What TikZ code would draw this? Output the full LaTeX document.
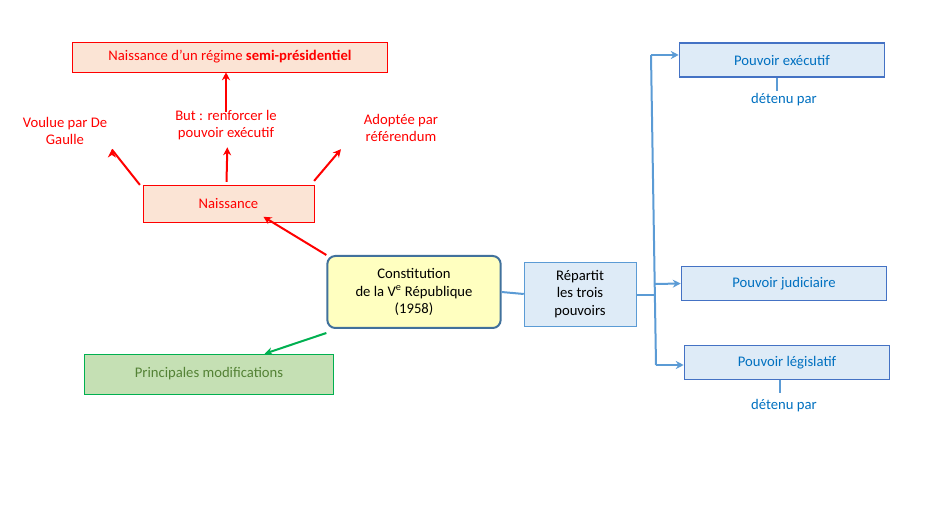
\documentclass[tikz,border=0pt]{standalone}
\usepackage{fontspec}
\setmainfont{Carlito}
\usetikzlibrary{arrows.meta}
\definecolor{rd}{HTML}{FF0000}
\definecolor{pinkf}{HTML}{FBE4D5}
\definecolor{yelf}{HTML}{FFFFC0}
\definecolor{bdb}{HTML}{41719C}
\definecolor{grf}{HTML}{C5E0B4}
\definecolor{grb}{HTML}{00B050}
\definecolor{grt}{HTML}{548235}
\definecolor{bluf}{HTML}{DEEBF7}
\definecolor{blub}{HTML}{4472C4}
\definecolor{blut}{HTML}{0070C0}
\definecolor{lnb}{HTML}{5B9BD5}
\begin{document}
\begin{tikzpicture}[x=0.75pt,y=-0.75pt,font=\fontsize{11}{13}\selectfont,
 redbox/.style={draw=rd,fill=pinkf,text=rd,minimum height=22.5pt,inner sep=0pt},
 redtxt/.style={text=rd,align=center},
 redarr/.style={draw=rd,line width=1.5pt,-{Stealth[length=6pt,width=6pt]}},
 bluebox/.style={draw=blub,fill=bluf,text=blut,line width=0.9pt,minimum height=25.5pt,minimum width=154pt,inner sep=0pt},
 bluearr/.style={draw=lnb,line width=1.5pt,-{Stealth[length=6pt,width=6pt]}},
 bluln/.style={draw=lnb,line width=1.5pt}]
\useasboundingbox (0,0) rectangle (946,527);
\node[redbox,minimum width=236pt] (title) at (230,57) {Naissance d’un régime \textbf{semi-présidentiel}};
\node[redtxt] (vou) at (65,131) {Voulue par De\\Gaulle};
\node[redtxt] (but) at (226,125) {But : renforcer le\\pouvoir exécutif};
\node[redtxt] (ado) at (401,128) {Adoptée par\\référendum};
\node[redbox,minimum width=128pt,minimum height=27.5pt] (nai) at (228.5,203.5) {Naissance};
\node[draw=bdb,fill=yelf,line width=1.5pt,rounded corners=6pt,minimum width=130pt,minimum height=54pt,align=center,inner sep=0pt] (cons) at (414,292) {Constitution\\de la V\textsuperscript{e} République\\(1958)};
\node[draw=grb,fill=grf,text=grt,minimum width=187pt,minimum height=30pt,inner sep=0pt] (mod) at (209,374) {Principales modifications};
\node[draw=lnb,fill=bluf,minimum width=84pt,minimum height=48pt,align=center,inner sep=0pt] (rep) at (580,294) {Répartit\\les trois\\pouvoirs};
\node[bluebox] (exe) at (782,60) {Pouvoir exécutif};
\node[bluebox] (jud) at (784,283.5) {Pouvoir judiciaire};
\node[bluebox] (leg) at (787,362.5) {Pouvoir législatif};
\node[text=blut] (d1) at (784,100) {détenu par};
\node[text=blut] (d2) at (784,406) {détenu par};
\draw[redarr] (but.north) ++(0,-5pt) coordinate (bt) -- (title.south -| bt);
\draw[redarr] (nai.north west) ++(-3,0) -- (vou.south east) ++(0,0);
\draw[redarr] (nai.north) ++(-2,-3) -- ([xshift=1pt,yshift=-2pt]but.south);
\draw[redarr] (nai.north east) ++(0,-4) -- ([xshift=-45pt,yshift=-2pt]ado.south);
\draw[redarr] (cons.north west) -- ([xshift=-38,yshift=4]nai.south east);
\draw[draw=grb,line width=1.5pt,-{Stealth[length=6pt,width=6pt]}] ([yshift=-3]cons.south west) -- ([xshift=-52]mod.north east);
\draw[bluln] (cons.east) -- (rep.west);
\coordinate (j) at (654,295);
\draw[bluln] (rep.east |- j) -- (j);
\coordinate (tp) at (651,55);
\coordinate (bt2) at (656,365);
\draw[bluln] (tp) -- (bt2);
\draw[bluearr] (tp) -- (exe.west |- tp);
\draw[bluearr] (655,284) -- (jud.west);
\draw[bluearr] (bt2) -- (leg.west |- bt2);
\draw[bluln,line width=1.2pt] (exe.south -| d1) ++(-7,0) -- ++(0,13);
\draw[bluln,line width=1.2pt] (leg.south -| d2) ++(-4,0) -- ++(0,13);
\end{tikzpicture}
\end{document}
